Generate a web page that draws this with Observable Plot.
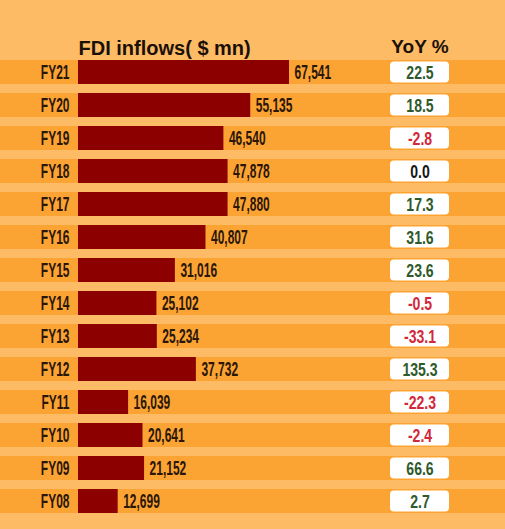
<!DOCTYPE html>
<html>
<head>
<meta charset="utf-8">
<script src="https://cdn.jsdelivr.net/npm/d3@7"></script>
<script src="https://cdn.jsdelivr.net/npm/@observablehq/plot@0.6"></script>
<style>
  html, body { margin: 0; padding: 0; background: #fdbb66; }
  svg { display: block; }
</style>
</head>
<body>
<div id="chart"></div>
<script>
const years = ["FY21","FY20","FY19","FY18","FY17","FY16","FY15","FY14","FY13","FY12","FY11","FY10","FY09","FY08"];
const inflows = [67541, 55135, 46540, 47878, 47880, 40807, 31016, 25102, 25234, 37732, 16039, 20641, 21152, 12699];
const yoy = [22.5, 18.5, -2.8, 0.0, 17.3, 31.6, 23.6, -0.5, -33.1, 135.3, -22.3, -2.4, 66.6, 2.7];
const titleLeft = "FDI inflows( $ mn)";
const titleRight = "YoY %";

const data = years.map((fy, i) => ({fy, value: inflows[i], yoy: yoy[i]}));

const W = 505, H = 529;
const xRange = [78, 289];          // pixel range for 0 .. max inflow
const boxPx = [390, 449];          // YoY column in pixels
const xs = d3.scaleLinear().domain([0, d3.max(inflows)]).range(xRange);
const boxX1 = xs.invert(boxPx[0]), boxX2 = xs.invert(boxPx[1]);
const boxMid = xs.invert((boxPx[0] + boxPx[1]) / 2);
const stripeX1 = xs.invert(0), stripeX2 = xs.invert(W);

const font = "'Liberation Sans', Arial, 'DejaVu Sans', sans-serif";
const ink = "#2a160a";

const chart = Plot.plot({
  width: W,
  height: H,
  marginTop: 0, marginBottom: 0, marginLeft: 0, marginRight: 0,
  style: {background: "#fdbb66", fontFamily: font, overflow: "visible"},
  x: {domain: [0, d3.max(inflows)], range: xRange, axis: null},
  y: {domain: years, range: [54, 520], paddingInner: 0.26, paddingOuter: 0, axis: null},
  marks: [
    // stripes
    Plot.barX(data, {y: "fy", x1: () => stripeX1, x2: () => stripeX2, fill: "#fca433"}),
    // bars
    Plot.barX(data, {y: "fy", x1: 0, x2: "value", fill: "#8c0000"}),
    // category labels
    Plot.text(data, {y: "fy", x: 0, text: "fy", dx: -9, textAnchor: "end", fontSize: 20, fontWeight: "bold", fill: ink}),
    // value labels
    Plot.text(data, {y: "fy", x: "value", text: d => d3.format(",")(d.value), dx: 5, textAnchor: "start", fontSize: 20, fontWeight: "bold", fill: ink}),
    // YoY boxes
    Plot.barX(data, {y: "fy", x1: () => boxX1, x2: () => boxX2, fill: "white", insetTop: 1.5, insetBottom: 1.5, rx: 4}),
    Plot.text(data, {y: "fy", x: () => boxMid, text: d => d.yoy.toFixed(1), fontSize: 19, fontWeight: "bold",
      fill: d => d.yoy < 0 ? "#d3273a" : (d.yoy === 0 ? "#141414" : "#2f5a2c")}),
    // headers
    Plot.text([titleLeft], {x: 0, frameAnchor: "top", dy: 40, text: d => d, textAnchor: "start", fontSize: 20, fontWeight: "bold", fill: "#1a1008", letterSpacing: -0.2}),
    Plot.text([titleRight], {x: () => boxMid, frameAnchor: "top", dy: 39, text: d => d, fontSize: 19, fontWeight: "bold", fill: "#1a1008"})
  ]
});

// condense the row texts horizontally (reference uses a condensed face)
const textGroups = chart.querySelectorAll('g[aria-label="text"]');
const squeeze = [0.6, 0.6, 0.74];
squeeze.forEach((s, i) => {
  const g = textGroups[i];
  if (!g) return;
  g.querySelectorAll("text").forEach(t => {
    const tr = t.getAttribute("transform") || "";
    t.setAttribute("transform", tr + ` scale(${s},1)`);
  });
});

document.getElementById("chart").appendChild(chart);
</script>
</body>
</html>
